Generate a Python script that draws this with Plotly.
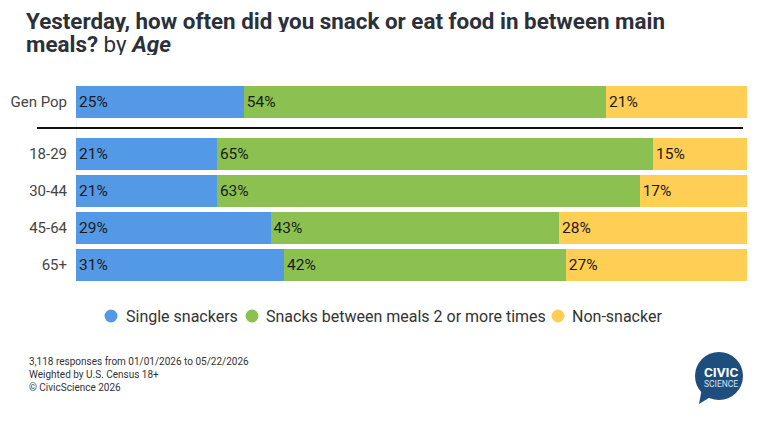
import plotly.graph_objects as go

categories = ["Gen Pop", "18-29", "30-44", "45-64", "65+"]
positions = [0, 1.4, 2.4, 3.4, 4.4]
series_names = ["Single snackers", "Snacks between meals 2 or more times", "Non-snacker"]
single = [25, 21, 21, 29, 31]
multi = [54, 65, 63, 43, 42]
non = [21, 15, 17, 28, 27]
colors = ["#5499E6", "#8CC152", "#FFCE54"]

fig = go.Figure()
for name, vals, col in zip(series_names, [single, multi, non], colors):
    fig.add_trace(go.Bar(
        y=positions, x=vals, name=name, orientation="h",
        marker=dict(color=col, line=dict(width=0)),
        width=0.865, showlegend=False,
        text=[f"{v}%" for v in vals], textposition="inside",
        insidetextanchor="start",
        textfont=dict(family="Roboto", size=15.5, color="#1a1a1a"),
        hoverinfo="skip",
    ))

W, H = 768, 426
L, R, T, B = 76, 21, 83, 140
plot_w = W - L - R
plot_h = H - T - B


def px(x):
    return (x - L) / plot_w


def py(y):
    return (H - B - y) / plot_h


fig.update_layout(
    width=W, height=H, barmode="stack",
    margin=dict(l=L, r=R, t=T, b=B, autoexpand=False),
    paper_bgcolor="white", plot_bgcolor="white",
    font=dict(family="Roboto", color="#333"),
    xaxis=dict(range=[0, 100], visible=False, fixedrange=True),
    yaxis=dict(range=[4.968, -0.514], tickvals=positions, ticktext=categories,
               showgrid=False, zeroline=False, ticks="", ticklabelstandoff=8,
               tickfont=dict(family="Roboto", size=15, color="#444")),
    showlegend=False,
)

# legend (circle markers + labels)
legend_marker_x = [111, 252, 558]
legend_text_x = [126, 266, 572]
legend_y = 316
for name, col, mx, tx in zip(series_names, colors, legend_marker_x, legend_text_x):
    fig.add_shape(type="circle", xref="paper", yref="paper",
                  x0=px(mx - 6.5), x1=px(mx + 6.5), y0=py(legend_y + 6.5), y1=py(legend_y - 6.5),
                  fillcolor=col, line=dict(width=0))
    fig.add_annotation(text=name, xref="paper", yref="paper", x=px(tx - 2), y=py(legend_y),
                       xanchor="left", yanchor="middle", showarrow=False,
                       font=dict(family="Roboto", size=16, color="#333"))

# title (two lines)
title_font = dict(family="Roboto", size=22.4, color="#2b303b")
fig.add_annotation(text="<b>Yesterday, how often did you snack or eat food in between main</b>",
                   xref="paper", yref="paper", x=px(24), y=py(20), xanchor="left", yanchor="middle",
                   height=23, showarrow=False, font=title_font)
fig.add_annotation(text="<b>meals?</b> by <b><i>Age</i></b>",
                   xref="paper", yref="paper", x=px(24), y=py(43), xanchor="left", yanchor="middle",
                   height=23, showarrow=False, font=title_font)

# separator line
fig.add_shape(type="line", xref="paper", yref="y",
              x0=px(37), x1=px(743), y0=0.7, y1=0.7,
              line=dict(color="#111", width=2))
# faint axis line
fig.add_shape(type="line", xref="x", yref="paper", x0=0, x1=0, y0=0, y1=1,
              line=dict(color="#e3e3e3", width=1), layer="below")

# footnote
fig.add_annotation(
    text="3,118 responses from 01/01/2026 to 05/22/2026<br>Weighted by U.S. Census 18+<br>© CivicScience 2026",
    xref="paper", yref="paper", x=px(27), y=py(354),
    xanchor="left", yanchor="top", align="left", showarrow=False,
    font=dict(family="Roboto", size=10, color="#333"))

# logo
cx, cy, r = 719, 376, 24
logo_col = "#1d4e7e"
fig.add_shape(type="path", xref="paper", yref="paper",
              path=f"M {px(702)} {py(388)} L {px(699)} {py(404)} L {px(712)} {py(396)} Z",
              fillcolor=logo_col, line=dict(width=0))
fig.add_shape(type="circle", xref="paper", yref="paper",
              x0=px(cx - r), x1=px(cx + r), y0=py(cy + r), y1=py(cy - r),
              fillcolor=logo_col, line=dict(width=0))
fig.add_annotation(text="<b>CIVIC</b>", xref="paper", yref="paper", x=px(cx + 2), y=py(372),
                   xanchor="center", yanchor="middle",
                   showarrow=False, font=dict(family="Roboto", size=13.5, color="white"))
fig.add_annotation(text="SCIENCE", xref="paper", yref="paper", x=px(cx + 2), y=py(384),
                   xanchor="center", yanchor="middle",
                   showarrow=False, font=dict(family="Roboto", size=8.5, color="#d8e4f0"))

fig.write_html("out.html")
